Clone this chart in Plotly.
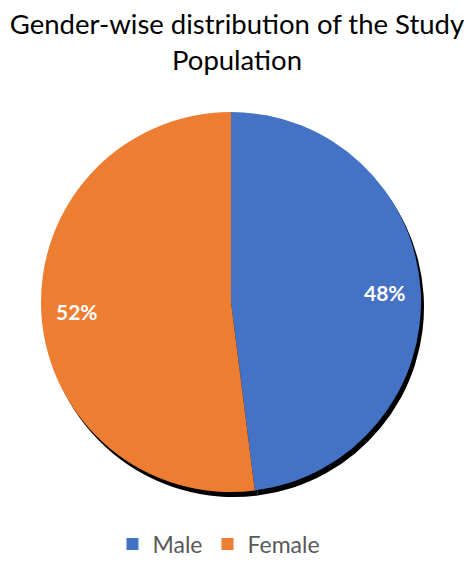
import numpy as np
import plotly.graph_objects as go

labels = ["Male", "Female"]
values = [48, 52]
colors = ["#4472C4", "#ED7D31"]
title_text = "Gender-wise distribution of the Study<br>Population"

# page has an 8px body margin: size the figure to fit the window
OFF = 8
W, H = 474 - OFF, 578 - OFF
cx, cy, r = 231 - OFF, 302 - OFF, 190  # pixel layout of the pie

dom_x = [(cx - r) / W, (cx + r) / W]
dom_y = [1 - (cy + r) / H, 1 - (cy - r) / H]
sx, sy = 3 / W, 5 / H

fig = go.Figure()
# shadow
fig.add_trace(go.Pie(
    labels=labels, values=values, sort=False, direction="clockwise", rotation=0,
    marker=dict(colors=["#000000", "#000000"], line=dict(width=0)),
    textinfo="none", hoverinfo="skip", showlegend=False,
    domain=dict(x=[dom_x[0] + sx, dom_x[1] + sx], y=[dom_y[0] - sy, dom_y[1] - sy]),
))
fig.add_trace(go.Pie(
    labels=labels, values=values, sort=False, direction="clockwise", rotation=0,
    marker=dict(colors=colors, line=dict(width=0)),
    textinfo="none", showlegend=True,
    domain=dict(x=dom_x, y=dom_y),
))

# percentage labels placed along slice mid-angles
vals = np.array(values, dtype=float)
frac = vals / vals.sum()
starts = np.concatenate([[0], np.cumsum(frac)[:-1]])
mids = starts + frac / 2
for f, m in zip(frac, mids):
    ang = np.deg2rad(90 - m * 360)
    px = cx + 0.81 * r * np.cos(ang)
    py = cy - 0.81 * r * np.sin(ang)
    fig.add_annotation(
        x=px / W, y=1 - py / H, xref="paper", yref="paper",
        text=f"<b>{round(f*100)}%</b>", showarrow=False,
        font=dict(family="Lato", size=21, color="white"),
        xanchor="center", yanchor="middle",
    )

fig.update_layout(
    width=W, height=H,
    margin=dict(l=0, r=0, t=0, b=0),
    paper_bgcolor="white", plot_bgcolor="white",
    title=dict(text=title_text, x=(237 - OFF) / W, xanchor="center",
               y=1 - (34 - OFF) / H, yanchor="middle",
               font=dict(family="Lato", size=27.5, color="#000000")),
    legend=dict(orientation="h", x=(219 - OFF) / W, xanchor="center",
                y=1 - (544 - OFF) / H, yanchor="middle",
                font=dict(family="Lato", size=23, color="#595959"), itemclick=False),
)

fig.write_html("out.html")
